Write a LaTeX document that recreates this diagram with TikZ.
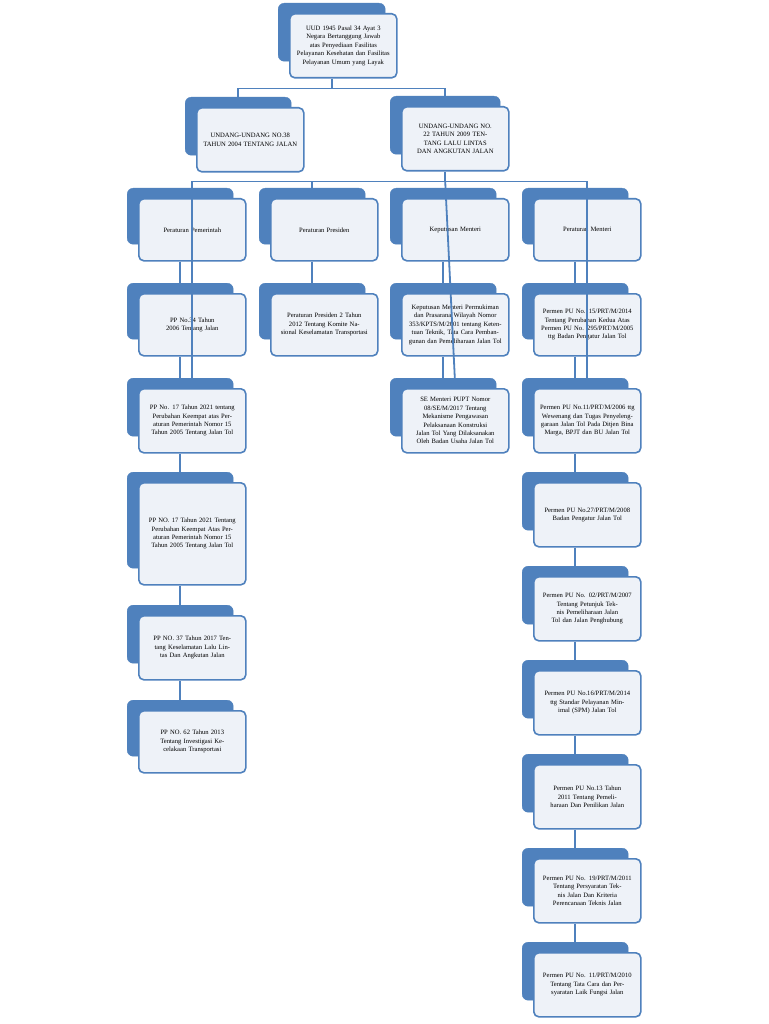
\documentclass[tikz,border=0pt]{standalone}
\usepackage{fontspec}
\setmainfont{Liberation Serif}
\definecolor{bl}{HTML}{4F81BD}
\definecolor{lt}{HTML}{EEF2F8}
\tikzset{
 back/.style={fill=bl,draw=bl,rounded corners=6pt,inner sep=0pt},
 front/.style={fill=lt,draw=bl,line width=1.6pt,rounded corners=5pt,inner sep=1pt,align=center,
   font=\fontsize{6.6}{8.4}\selectfont,text width=96pt},
 conn/.style={draw=bl,line width=1.8pt}
}
% name, x, y (back top-left), back width, back height, text
\newcommand\bx[6]{%
 \node[back,anchor=north west,minimum width=#4pt,minimum height=#5pt] (#1b) at (#2,#3) {};
 \node[front,anchor=north west,minimum width=107pt,minimum height=#5pt+6pt] (#1) at (#2+11,#3+10) {#6};}
\begin{document}
\begin{tikzpicture}[x=1pt,y=-1pt]
\useasboundingbox[fill=white] (0,0) rectangle (768,1024);
\bx{top}{278}{3}{107}{58}{UUD 1945 Pasal 34 Ayat 3 Negara Bertanggung Jawab atas Penyediaan Fasilitas Pelayanan Kesehatan dan Fasilitas Pelayanan Umum yang Layak}
\bx{uua}{185}{97}{106}{58}{UNDANG-UNDANG NO.38 TAHUN 2004 TENTANG JALAN}
\bx{uub}{390}{96}{110}{58}{UNDANG-UNDANG NO. 22 TAHUN 2009 TENTANG LALU LINTAS DAN ANGKUTAN JALAN}
\bx{pp}{127}{188}{106}{56}{Peraturan Pemerintah}
\bx{pres}{259}{188}{106}{56}{Peraturan Presiden}
\bx{kep}{390}{188}{106}{56}{Keputusan Menteri}
\bx{per}{522}{188}{106}{56}{Peraturan Menteri}
\bx{ppa}{127}{283}{106}{56}{PP No.34 Tahun 2006 Tentang Jalan}
\bx{presa}{259}{283}{106}{56}{Peraturan Presiden 2 Tahun 2012 Tentang Komite Nasional Keselamatan Transportasi}
\bx{kepa}{390}{283}{106}{56}{Keputusan Menteri Permukiman dan Prasarana Wilayah Nomor 353/KPTS/M/2001 tentang Ketentuan Teknik, Tata Cara Pembangunan dan Pemeliharaan Jalan Tol}
\bx{pera}{522}{283}{106}{56}{Permen PU No. 15/PRT/M/2014 Tentang Perubahan Kedua Atas Permen PU No. 295/PRT/M/2005 ttg Badan Pengatur Jalan Tol}
\bx{ppb}{127}{378}{106}{58}{PP No. 17 Tahun 2021 tentang Perubahan Keempat atas Peraturan Pemerintah Nomor 15 Tahun 2005 Tentang Jalan Tol}
\bx{kepb}{390}{378}{106}{58}{SE Menteri PUPT Nomor 08/SE/M/2017 Tentang Mekanisme Pengawasan Pelaksanaan Konstruksi Jalan Tol Yang Dilaksanakan Oleh Badan Usaha Jalan Tol}
\bx{perb}{522}{378}{106}{58}{Permen PU No.11/PRT/M/2006 ttg Wewenang dan Tugas Penyelenggaraan Jalan Tol Pada Ditjen Bina Marga, BPJT dan BU Jalan Tol}
\bx{ppc}{127}{472}{106}{96}{PP NO. 17 Tahun 2021 Tentang Perubahan Keempat Atas Peraturan Pemerintah Nomor 15 Tahun 2005 Tentang Jalan Tol}
\bx{ppd}{127}{605}{106}{58}{PP NO. 37 Tahun 2017 Tentang Keselamatan Lalu Lintas Dan Angkutan Jalan}
\bx{ppe}{127}{700}{106}{56}{PP NO. 62 Tahun 2013 Tentang Investigasi Kecelakaan Transportasi}
\bx{perc}{522}{472}{106}{58}{Permen PU No.27/PRT/M/2008 Badan Pengatur Jalan Tol}
\bx{perd}{522}{566}{106}{58}{Permen PU No. 02/PRT/M/2007 Tentang Petunjuk Teknis Pemeliharaan Jalan Tol dan Jalan Penghubung}
\bx{pere}{522}{660}{106}{58}{Permen PU No.16/PRT/M/2014 ttg Standar Pelayanan Minimal (SPM) Jalan Tol}
\bx{perf}{522}{754}{106}{58}{Permen PU No.13 Tahun 2011 Tentang Pemeliharaan Dan Penilikan Jalan}
\bx{perg}{522}{848}{106}{58}{Permen PU No. 19/PRT/M/2011 Tentang Persyaratan Teknis Jalan Dan Kriteria Perencanaan Teknis Jalan}
\bx{perh}{522}{942}{106}{58}{Permen PU No. 11/PRT/M/2010 Tentang Tata Cara dan Persyaratan Laik Fungsi Jalan}
% connectors
\draw[conn] (top.south -| topb.north) -- ++(0,10) coordinate (j1);
\draw[conn] (uuab.north) |- (j1) -| (uubb.north);
\draw[conn] (uub.south -| uubb.north) -- ++(0,10) coordinate (j2);
\draw[conn] (ppb.north) |- (j2) -| (perb.north);
\draw[conn] (presb.north) -- (presb.north |- j2);
\draw[conn] (kepb.north) -- (j2);
\foreach \a/\b in {pp/ppa,ppa/ppb,ppb/ppc,ppc/ppd,ppd/ppe,pres/presa,kep/kepa,kepa/kepb,per/pera,pera/perb,perb/perc,perc/perd,perd/pere,pere/perf,perf/perg,perg/perh}
  \draw[conn] (\a.south -| \b b.north) -- (\b b.north);
\end{tikzpicture}
\end{document}
